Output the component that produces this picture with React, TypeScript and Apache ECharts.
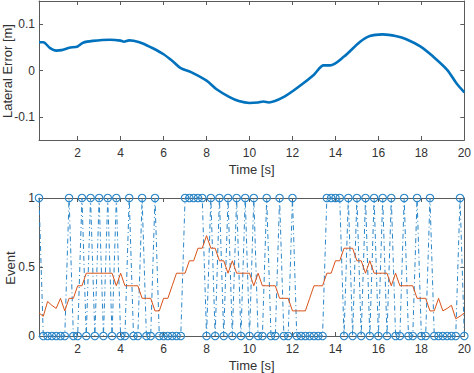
import React, { useEffect, useRef } from "react";
import * as echarts from "echarts";

// Top plot: lateral error over time
const errTime = [0.2, 0.4, 0.7, 1.0, 1.25, 1.6, 2.0, 2.25, 2.7, 3.5, 4.0, 4.15, 4.4, 4.6, 5.0, 5.5, 6.0, 6.45, 6.8, 7.3, 8.0, 8.45, 9.05, 9.5, 10.0, 10.4, 10.65, 10.9, 11.6, 12.35, 13.0, 13.45, 13.75, 14.4, 15.15, 15.6, 16.2, 16.85, 17.3, 17.95, 18.55, 19.2, 19.65, 20.0];
const errValue = [0.061, 0.061, 0.049, 0.043, 0.044, 0.049, 0.052, 0.06, 0.064, 0.0665, 0.0645, 0.062, 0.065, 0.064, 0.059, 0.048, 0.035, 0.019, 0.005, -0.004, -0.022, -0.04, -0.057, -0.066, -0.07, -0.069, -0.067, -0.069, -0.057, -0.033, -0.009, 0.011, 0.011, 0.03, 0.062, 0.0745, 0.078, 0.074, 0.0675, 0.052, 0.03, 0.0015, -0.0286, -0.047];

// Bottom plot: event samples every 0.2 s from 0.2 s to 20 s
const eventTime = [
  0.2, 0.4, 0.6, 0.8, 1.0, 1.2, 1.4, 1.6, 1.8, 2.0, 2.2, 2.4, 2.6, 2.8, 3.0, 3.2, 3.4, 3.6, 3.8, 4.0,
  4.2, 4.4, 4.6, 4.8, 5.0, 5.2, 5.4, 5.6, 5.8, 6.0, 6.2, 6.4, 6.6, 6.8, 7.0, 7.2, 7.4, 7.6, 7.8, 8.0,
  8.2, 8.4, 8.6, 8.8, 9.0, 9.2, 9.4, 9.6, 9.8, 10.0, 10.2, 10.4, 10.6, 10.8, 11.0, 11.2, 11.4, 11.6, 11.8, 12.0,
  12.2, 12.4, 12.6, 12.8, 13.0, 13.2, 13.4, 13.6, 13.8, 14.0, 14.2, 14.4, 14.6, 14.8, 15.0, 15.2, 15.4, 15.6, 15.8, 16.0,
  16.2, 16.4, 16.6, 16.8, 17.0, 17.2, 17.4, 17.6, 17.8, 18.0, 18.2, 18.4, 18.6, 18.8, 19.0, 19.2, 19.4, 19.6, 19.8, 20.0,
];
const eventValue = [
  1, 0, 0, 0, 0, 0, 0, 1, 0, 0, 1, 0, 1, 0, 1, 0, 1, 0, 1, 0,
  0, 1, 0, 0, 1, 0, 0, 1, 0, 0, 0, 0, 0, 0, 1, 1, 1, 1, 1, 0,
  1, 0, 1, 0, 1, 0, 1, 0, 1, 0, 1, 0, 0, 1, 0, 0, 1, 0, 0, 1,
  0, 0, 0, 0, 0, 0, 0, 1, 1, 1, 1, 0, 1, 0, 1, 0, 1, 0, 1, 0,
  1, 0, 1, 0, 0, 1, 0, 0, 1, 0, 0, 1, 0, 0, 0, 0, 0, 0, 1, 0,
];
const eventMean = [
  0.167, 0.143, 0.25, 0.222, 0.2, 0.273, 0.182, 0.273, 0.273, 0.364,
  0.364, 0.455, 0.455, 0.455, 0.455, 0.455, 0.455, 0.455, 0.364, 0.455,
  0.364, 0.364, 0.364, 0.364, 0.273, 0.273, 0.273, 0.182, 0.182, 0.273,
  0.273, 0.364, 0.455, 0.455, 0.455, 0.545, 0.545, 0.636, 0.636, 0.727,
  0.636, 0.636, 0.545, 0.545, 0.455, 0.545, 0.455, 0.455, 0.455, 0.455,
  0.364, 0.455, 0.364, 0.364, 0.364, 0.364, 0.273, 0.273, 0.273, 0.182,
  0.182, 0.182, 0.182, 0.273, 0.364, 0.364, 0.364, 0.455, 0.455, 0.545,
  0.545, 0.636, 0.636, 0.636, 0.545, 0.545, 0.455, 0.545, 0.455, 0.455,
  0.455, 0.455, 0.364, 0.455, 0.364, 0.364, 0.364, 0.364, 0.273, 0.273,
  0.273, 0.182, 0.182, 0.273, 0.182, 0.2, 0.222, 0.125, 0.143, 0.167,
];

const xTicks = [2, 4, 6, 8, 10, 12, 14, 16, 18, 20];
const errTicks = [-0.1, 0, 0.1];

const FONT = "'Liberation Sans', Arial, Helvetica, sans-serif";
const AXIS_COLOR = "#5a5a5a";
const TEXT_COLOR = "#333333";
const BLUE = "#0072BD";
const EVENT_BLUE = "#2a86c8";
const ORANGE = "#D95319";

function xAxisDef(gridIndex: number, position: "bottom" | "top") {
  const main = position === "bottom";
  return {
    type: "value",
    gridIndex,
    position,
    min: 0.2,
    max: 20,
    axisLine: { show: true, onZero: false, lineStyle: { color: AXIS_COLOR, width: 1 } },
    axisTick: { show: true, inside: true, length: 4, customValues: xTicks, lineStyle: { color: AXIS_COLOR } },
    axisLabel: {
      show: main,
      customValues: xTicks,
      margin: 7,
      color: TEXT_COLOR,
      fontSize: 12,
      fontFamily: FONT,
      formatter: (v: number) => String(v),
    },
    splitLine: { show: false },
    name: main ? "Time [s]" : "",
    nameLocation: "middle",
    nameGap: 23,
    nameTextStyle: { color: TEXT_COLOR, fontSize: 13, fontFamily: FONT },
  };
}

function yAxisDef(gridIndex: number, position: "left" | "right", top: boolean) {
  const main = position === "left";
  const base: any = {
    type: "value",
    gridIndex,
    position,
    axisLine: { show: true, onZero: false, lineStyle: { color: AXIS_COLOR, width: 1 } },
    splitLine: { show: false },
  };
  if (top) {
    base.min = -0.15;
    base.max = 0.15;
    base.axisTick = { show: true, inside: true, length: 4, customValues: errTicks, lineStyle: { color: AXIS_COLOR } };
    base.axisLabel = {
      show: main,
      customValues: errTicks,
      margin: 4,
      color: TEXT_COLOR,
      fontSize: 12,
      fontFamily: FONT,
      formatter: (v: number) => (Math.abs(v) < 1e-9 ? "0" : String(Math.round(v * 10) / 10)),
    };
  } else {
    base.min = 0;
    base.max = 1;
    base.interval = 0.5;
    base.axisTick = { show: true, inside: true, length: 4, lineStyle: { color: AXIS_COLOR } };
    base.axisLabel = {
      show: main,
      margin: 4,
      color: TEXT_COLOR,
      fontSize: 12,
      fontFamily: FONT,
      formatter: (v: number) => String(v),
    };
  }
  return base;
}

export default function App() {
  const ref = useRef<HTMLDivElement>(null);

  useEffect(() => {
    if (!ref.current) return;
    const chart = echarts.init(ref.current, null, { renderer: "svg" });
    const errData = errTime.map((t, i) => [t, errValue[i]]);
    const evData = eventTime.map((t, i) => [t, eventValue[i]]);
    const meanData = eventTime.map((t, i) => [t, eventMean[i]]);

    chart.setOption({
      animation: false,
      backgroundColor: "#ffffff",
      grid: [
        { left: 39, top: 1, width: 427, height: 139 },
        { left: 39, top: 198, width: 427, height: 139 },
      ],
      xAxis: [xAxisDef(0, "bottom"), xAxisDef(0, "top"), xAxisDef(1, "bottom"), xAxisDef(1, "top")],
      yAxis: [yAxisDef(0, "left", true), yAxisDef(0, "right", true), yAxisDef(1, "left", false), yAxisDef(1, "right", false)],
      graphic: [
        {
          type: "text",
          x: 7,
          y: 71,
          rotation: Math.PI / 2,
          style: {
            text: "Lateral Error [m]",
            fill: TEXT_COLOR,
            font: `13px ${FONT}`,
            textAlign: "center",
            textVerticalAlign: "middle",
          },
        },
        {
          type: "text",
          x: 10,
          y: 268,
          rotation: Math.PI / 2,
          style: {
            text: "Event",
            fill: TEXT_COLOR,
            font: `13px ${FONT}`,
            textAlign: "center",
            textVerticalAlign: "middle",
          },
        },
      ],
      series: [
        {
          type: "line",
          xAxisIndex: 0,
          yAxisIndex: 0,
          data: errData,
          showSymbol: false,
          smooth: 0.3,
          lineStyle: { color: BLUE, width: 2.6 },
          clip: true,
        },
        {
          type: "line",
          xAxisIndex: 2,
          yAxisIndex: 2,
          data: evData,
          symbol: "circle",
          symbolSize: 7.5,
          showSymbol: true,
          showAllSymbol: true,
          itemStyle: { color: "rgba(255,255,255,0)", borderColor: EVENT_BLUE, borderWidth: 1.1 },
          lineStyle: { color: EVENT_BLUE, width: 1, type: [5, 3, 1, 3] },
          clip: false,
        },
        {
          type: "line",
          xAxisIndex: 2,
          yAxisIndex: 2,
          data: meanData,
          showSymbol: false,
          lineStyle: { color: ORANGE, width: 1 },
          clip: false,
        },
      ],
    });
    return () => chart.dispose();
  }, []);

  return (
    <div
      ref={ref}
      style={{ position: "fixed", left: 0, top: 0, width: 474, height: 373, background: "#fff" }}
    />
  );
}
